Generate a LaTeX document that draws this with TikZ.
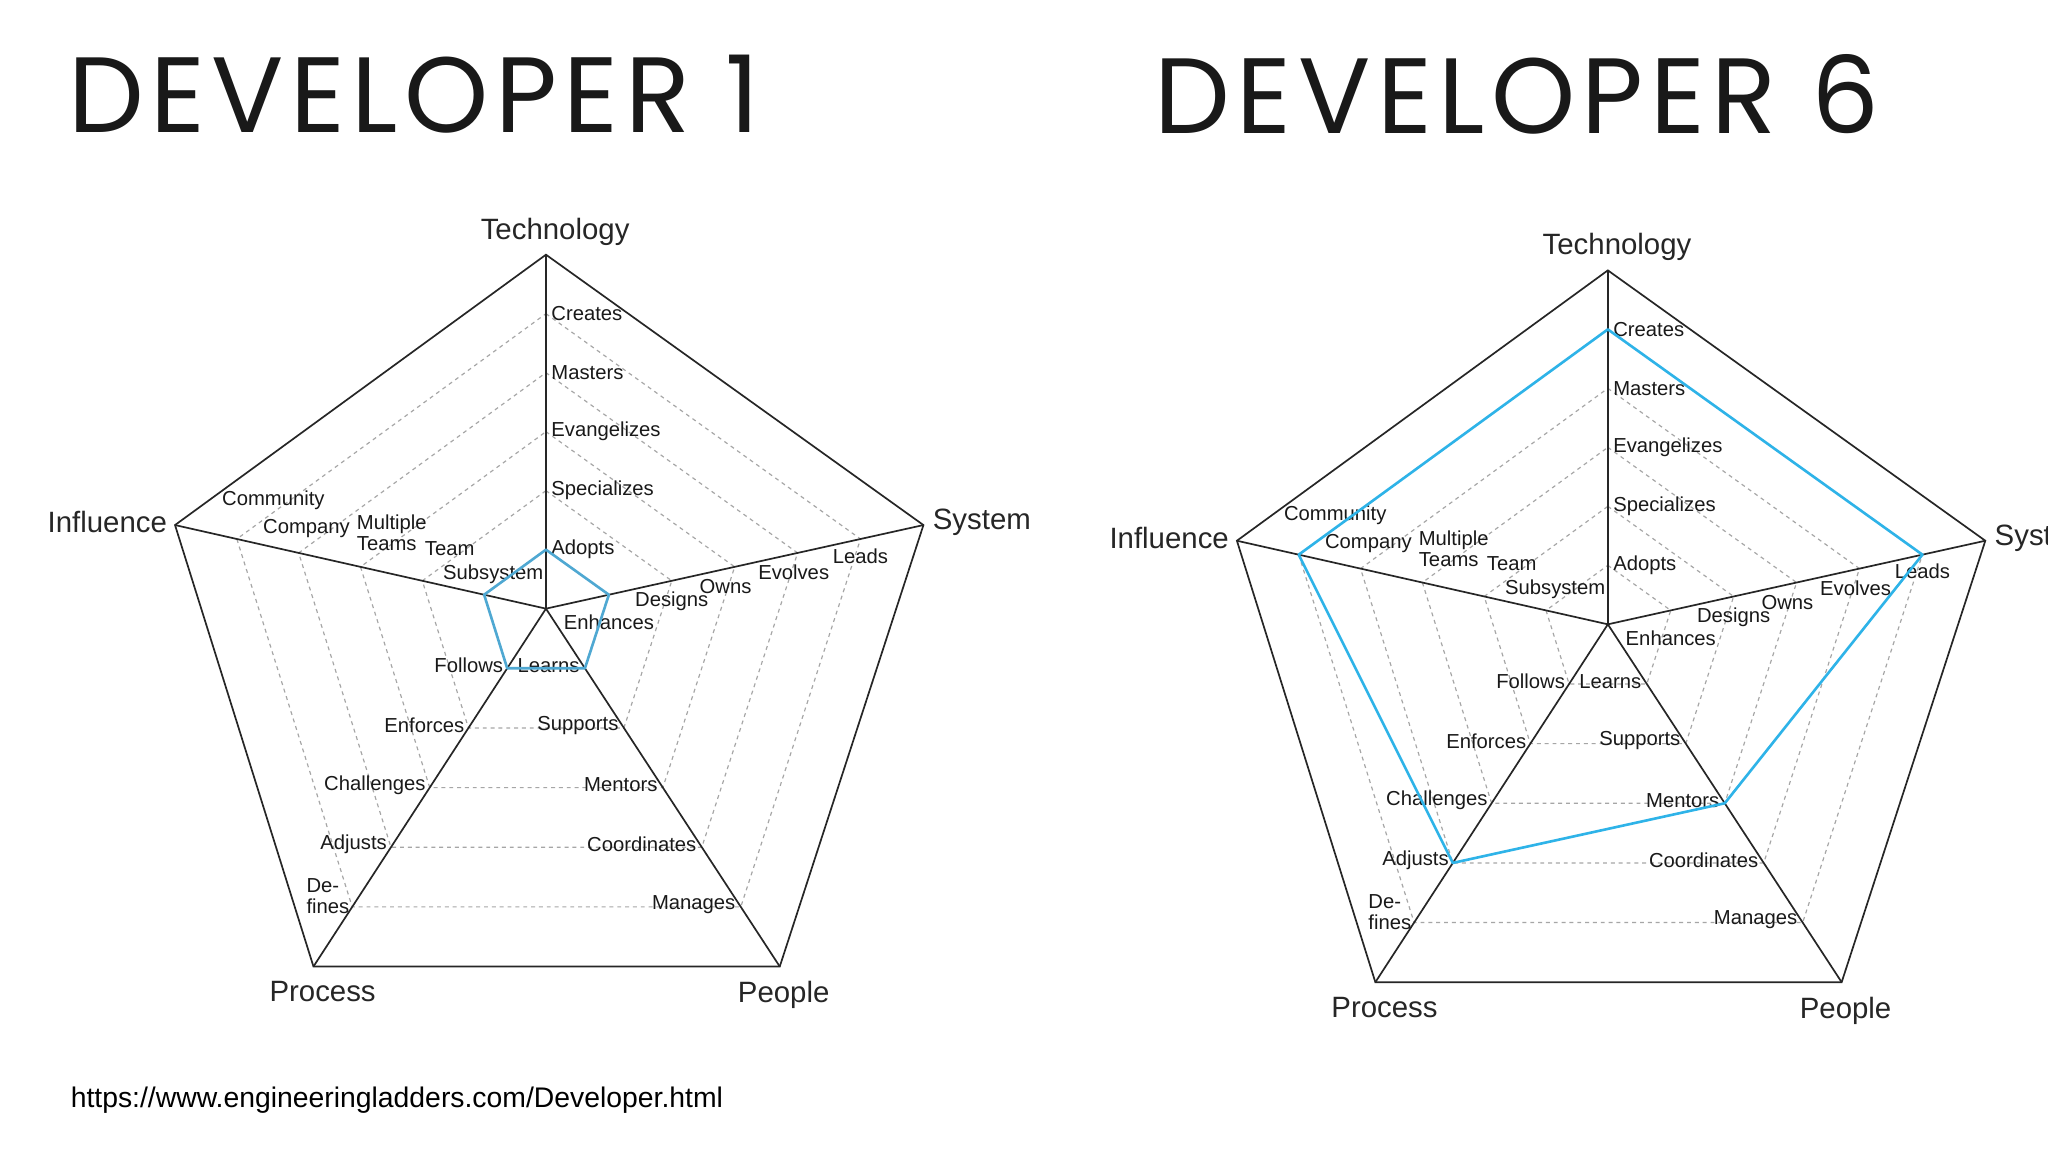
\documentclass[tikz,border=0pt]{standalone}
\usepackage{fontspec}
\setmainfont{Liberation Sans}
\newfontfamily\titlefont[LetterSpace=6]{Poppins}
\usetikzlibrary{calc}
\tikzset{
 axisline/.style={draw=black!85,line width=1.3pt},
 gridline/.style={draw=black!35,dashed,line width=0.9pt},
 lab/.style={font=\fontsize{15.5}{16}\selectfont,text=black!90,inner sep=1pt},
 axlab/.style={font=\fontsize{22.5}{23}\selectfont,text=black!85,inner sep=1pt},
 bluepoly/.style={draw=#1,line width=2pt,line join=round},
}
\definecolor{blueA}{HTML}{4FA8D2}
\definecolor{blueB}{HTML}{2EB3E8}
\newcommand\myradar[3]{%
\begin{scope}[shift={(#2,#3)}]
 \coordinate (#1c) at (418,466);
 \coordinate (#1T) at (418,195);
 \coordinate (#1S) at (707,402);
 \coordinate (#1P) at (597,740);
 \coordinate (#1R) at (240,740);
 \coordinate (#1I) at (134,402);
 \foreach \k in {1,...,5}{
  \draw[gridline] ($(#1c)!{\k/6}!(#1T)$) -- ($(#1c)!{\k/6}!(#1S)$) -- ($(#1c)!{\k/6}!(#1P)$) -- ($(#1c)!{\k/6}!(#1R)$) -- ($(#1c)!{\k/6}!(#1I)$) -- cycle;
 }
 \draw[axisline] (#1T) -- (#1S) -- (#1P) -- (#1R) -- (#1I) -- cycle;
 \foreach \v in {T,S,P,R,I}{\draw[axisline] (#1c) -- (#1\v);}
 \node[axlab,anchor=south] (#1lT) at ($(#1T)+(7,-6)$) {Technology};
 \node[axlab,anchor=west] (#1lS) at ($(#1S)+(6,-2)$) {System};
 \node[axlab,anchor=north] (#1lP) at ($(#1P)+(3,10)$) {People};
 \node[axlab,anchor=north] (#1lR) at ($(#1R)+(7,10)$) {Process};
 \node[axlab,anchor=east] (#1lI) at ($(#1I)+(-5,-2)$) {Influence};
 \foreach \k/\t in {1/Adopts,2/Specializes,3/Evangelizes,4/Masters,5/Creates}{
  \node[lab,anchor=west] (#1t\k) at ($(#1c)!{\k/6}!(#1T)+(3,0)$) {\t};}
 \node[lab] (#1s1) at ($(#1c)!{1/6}!(#1S)+(0,21)$) {Enhances};
 \foreach \k/\t/\dx/\dy in {2/Designs/0/16,3/Owns/-7/15,4/Evolves/-3/15,5/Leads/0/13}{
  \node[lab] (#1s\k) at ($(#1c)!{\k/6}!(#1S)+(\dx,\dy)$) {\t};}
 \foreach \k/\t in {1/Learns,2/Supports,3/Mentors,4/Coordinates,5/Manages}{
  \node[lab,anchor=east] (#1p\k) at ($(#1c)!{\k/6}!(#1P)+(-3,-2)$) {\t};}
 \foreach \k/\t in {1/Follows,2/Enforces,3/Challenges,4/Adjusts}{
  \node[lab,anchor=east] (#1r\k) at ($(#1c)!{\k/6}!(#1R)+(-2,-2)$) {\t};}
 \node[lab,anchor=east,align=left] (#1r5) at ($(#1c)!{5/6}!(#1R)+(-1,-8)$) {De-\\fines};
 \node[lab] (#1i1) at ($(#1c)!{1/6}!(#1I)+(7,-16)$) {Subsystem};
 \node[lab] (#1i2) at ($(#1c)!{2/6}!(#1I)+(21,-25)$) {Team};
 \node[lab,align=left] (#1i3) at ($(#1c)!{3/6}!(#1I)+(24,-26)$) {Multiple\\Teams};
 \node[lab] (#1i4) at ($(#1c)!{4/6}!(#1I)+(6,-19)$) {Company};
 \node[lab] (#1i5) at ($(#1c)!{5/6}!(#1I)+(28,-30)$) {Community};
\end{scope}}
\begin{document}
\begin{tikzpicture}[x=1pt,y=-1pt]
\useasboundingbox (0,0) rectangle (1568,882);
\fill[white] (0,0) rectangle (1568,882);
\node[anchor=west,font=\titlefont\fontsize{82}{82}\selectfont,text=black!90,inner sep=0] (title1) at (52,72) {DEVELOPER 1};
\node[anchor=west,font=\titlefont\fontsize{82}{82}\selectfont,text=black!90,inner sep=0] (title2) at (884,72) {DEVELOPER 6};
\myradar{A}{0}{0}
\myradar{B}{813}{12}
\draw[bluepoly=blueA] ($(Ac)!{1/6}!(AT)$) -- ($(Ac)!{1/6}!(AS)$) -- ($(Ac)!{1/6}!(AP)$) -- ($(Ac)!{1/6}!(AR)$) -- ($(Ac)!{1/6}!(AI)$) -- cycle;
\draw[bluepoly=blueB] ($(Bc)!{5/6}!(BT)$) -- ($(Bc)!{5/6}!(BS)$) -- ($(Bc)!{3/6}!(BP)$) -- ($(Bc)!{4/6}!(BR)$) -- ($(Bc)!{5/6}!(BI)$) -- cycle;
\node[anchor=west,font=\fontsize{21.7}{22}\selectfont,inner sep=0] (url) at (54,842) {https://www.engineeringladders.com/Developer.html};
\end{tikzpicture}
\end{document}
